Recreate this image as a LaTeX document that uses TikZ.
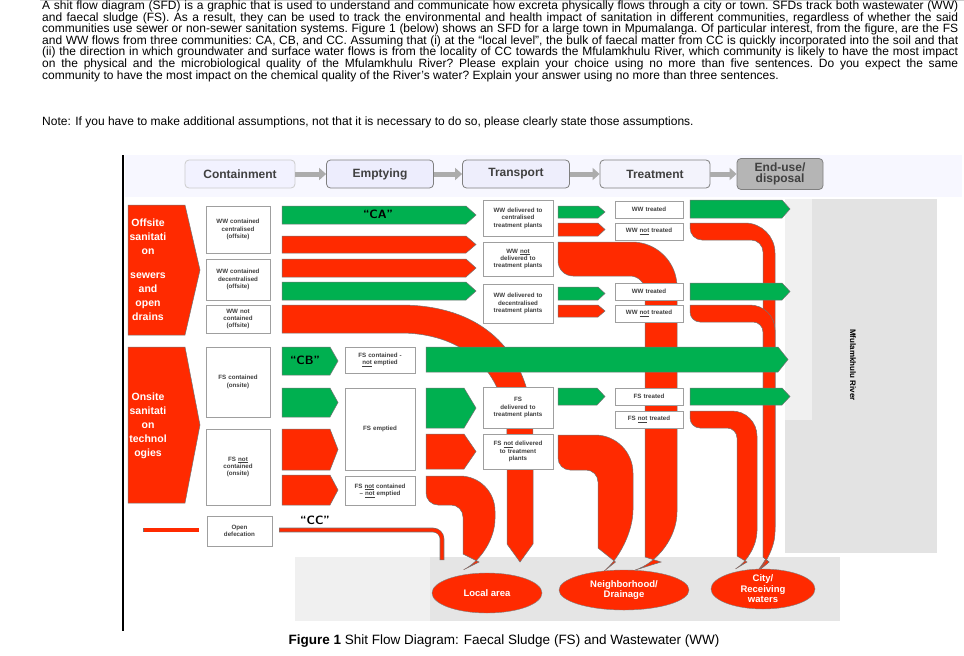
\documentclass[tikz,border=0pt]{standalone}
\usepackage{fontspec}
\setmainfont{Liberation Sans}
\usetikzlibrary{arrows.meta,shapes.geometric}
\definecolor{sfdred}{RGB}{255,42,0}
\definecolor{sfdgreen}{RGB}{0,176,80}
\definecolor{txtg}{RGB}{64,64,64}
\tikzset{
  flow/.style={draw=black!55,line width=0.5pt},
  box/.style={draw=gray!75,fill=white,line width=0.6pt,inner sep=1pt,align=center,font=\fontsize{6.2}{7.4}\selectfont\bfseries,text=txtg},
  hdr/.style={draw=#1!60!gray,rounded corners=4pt,line width=0.8pt,font=\fontsize{12}{12}\selectfont\bfseries,text=black!75,align=center},
  harr/.style={line width=5pt,gray!65,-{Triangle[length=7pt,width=12pt]}},
  lbl/.style={font=\fontsize{10.5}{14}\selectfont\bfseries,text=white,align=center},
  ell/.style={ellipse,fill=sfdred,draw=black!50,font=\fontsize{9.5}{10.5}\selectfont\bfseries,text=white,align=center,inner sep=0pt},
  quote/.style={font=\fontsize{12}{12}\selectfont\bfseries\sffamily,text=black}
}
% arrow: color x1 y1 x2 y2 depth
\newcommand\fa[6]{\fill[#1,flow] (#2,#3) -- ({#4-#6},#3) -- (#4,{(#3+#5)/2}) -- ({#4-#6},#5) -- (#2,#5) -- cycle;}
% bend: x0 y1 y2 xa xb ytip Rout Rin h
\newcommand\bend[9]{\fill[sfdred,flow] (#1,#2) [rounded corners=#7pt] -| (#5,{#6-#9}) [sharp corners] -- ({(#4+#5)/2},#6) -- (#4,{#6-#9}) [rounded corners=#8pt] |- (#1,#3) [sharp corners] -- cycle;}
\newcommand\bx[6]{\node[box,minimum width={(#4-#2)*1pt},minimum height={(#5-#3)*1pt},text width={(#4-#2-4)*1pt}] (#1) at ({(#2+#4)/2},{(#3+#5)/2}) {#6};}
\begin{document}
\begin{tikzpicture}[x=1pt,y=-1pt]
\useasboundingbox (0,0) rectangle (964,656);
\fill[white] (0,0) rectangle (964,656);
\draw[gray!40] (40,0.5) -- (964,0.5);
% paragraph
\node[anchor=north west,inner sep=0pt,text width=916pt,align=justify] (para) at (42,0.5) {\fontsize{12}{11.65}\selectfont\frenchspacing
A shit flow diagram (SFD) is a graphic that is used to understand and communicate how excreta physically flows through a city or town. SFDs track both wastewater (WW)\linebreak
and faecal sludge (FS). As a result, they can be used to track the environmental and health impact of sanitation in different communities, regardless of whether the said\linebreak
communities use sewer or non-sewer sanitation systems. Figure 1 (below) shows an SFD for a large town in Mpumalanga. Of particular interest, from the figure, are the FS\linebreak
and WW flows from three communities: CA, CB, and CC. Assuming that (i) at the “local level”, the bulk of faecal matter from CC is quickly incorporated into the soil and that\linebreak
(ii) the direction in which groundwater and surface water flows is from the locality of CC towards the Mfulamkhulu River, which community is likely to have the most impact\linebreak
on the physical and the microbiological quality of the Mfulamkhulu River? Please explain your choice using no more than five sentences. Do you expect the same\linebreak
community to have the most impact on the chemical quality of the River’s water? Explain your answer using no more than three sentences.\par};
\node[anchor=north west,inner sep=0pt,font=\fontsize{12}{12}\selectfont] (note) at (42,117) {Note: If you have to make additional assumptions, not that it is necessary to do so, please clearly state those assumptions.};
% frame line
\draw[black,line width=2.5pt] (123,155) -- (123,631);
% backgrounds
\fill[blue!3] (125,155) rectangle (962,197);
\fill[gray!22] (785,199) rectangle (937,553);
\fill[gray!12] (785,199) rectangle (812,420);
\fill[gray!20] (295,557) rectangle (840,621);
\fill[gray!12] (295,557) rectangle (430,621);
\node[rotate=-90,font=\fontsize{8}{9}\selectfont\bfseries] (river) at (853,365) {Mfulamkhulu River};
% header
\node[hdr=white,fill=white!95!blue,minimum width=110pt,minimum height=28pt] (h1) at (240,174) {Containment};
\node[hdr=gray,fill=gray!20!blue!8,minimum width=107pt,minimum height=28pt] (h2) at (380,174) {Emptying};
\node[hdr=gray,fill=gray!30!blue!8,minimum width=107pt,minimum height=28pt] (h3) at (516,174) {Transport};
\node[hdr=gray,fill=gray!42!blue!6,minimum width=110pt,minimum height=28pt] (h4) at (655,174) {Treatment};
\node[hdr=gray,fill=gray!58,minimum width=86pt,minimum height=31pt,font=\fontsize{12}{11}\selectfont\bfseries] (h5) at (780,174) {End-use/\\disposal};
\draw[harr] (h1) -- (h2); \draw[harr] (h2) -- (h3); \draw[harr] (h3) -- (h4); \draw[harr] (h4) -- (h5);
% left labels
\fill[sfdred,flow] (128,205) -- (185,205) -- (200,270) -- (185,335) -- (128,335) -- cycle;
\node[lbl] (off) at (148,270) {Offsite\\sanitati\\on\\[10pt]sewers\\and\\open\\drains};
\fill[sfdred,flow] (128,347) -- (185,347) -- (200,425) -- (185,503) -- (128,503) -- cycle;
\node[lbl] (on) at (148,426) {Onsite\\sanitati\\on\\technol\\ogies};
% bends (behind)
\fill[sfdred,flow] (282,305) -- (400,305) .. controls (490,305) and (533,360) .. (533,435) -- (533,544) -- (520,562) -- (507,544) -- (507,435) .. controls (507,378) and (470,333) .. (400,333) -- (282,333) -- cycle;
\bend{558}{242}{276}{645}{677}{562}{45}{15}{5}
\bend{690}{223}{240}{763}{775}{562}{30}{12}{5}
\bend{690}{305}{322}{763}{775}{562}{25}{10}{5}
\bend{690}{411}{428}{737}{757}{562}{25}{10}{6}
\bend{558}{435}{470}{598}{633}{562}{38}{12}{14}
\bend{426}{476}{505}{463}{495}{562}{35}{12}{8}
% CC line
\draw[black!55,line width=4.6pt,rounded corners=9pt] (279,530) -| (442,560);
\draw[sfdred,line width=3.4pt,rounded corners=9pt] (279.5,530) -| (442,559.5);
\draw[black!55,line width=4.6pt] (143,530) -- (199,530);
\draw[sfdred,line width=3.4pt] (143.5,530) -- (198.5,530);
% column 2 offsite
\fa{sfdgreen}{282}{206}{476}{224}{10}
\fa{sfdred}{282}{236}{476}{253}{10}
\fa{sfdred}{282}{259}{476}{277}{10}
\fa{sfdgreen}{282}{282}{476}{300}{10}
% transport arrows
\fa{sfdgreen}{558}{206}{605}{218}{7}
\fa{sfdred}{558}{223}{605}{236}{7}
\fa{sfdgreen}{558}{287}{605}{300}{7}
\fa{sfdred}{558}{305}{605}{317}{7}
\fa{sfdgreen}{558}{388}{605}{405}{8}
% end-use greens
\fa{sfdgreen}{690}{200}{790}{218}{8}
\fa{sfdgreen}{690}{283}{790}{300}{8}
\fa{sfdgreen}{690}{388}{790}{405}{8}
\fa{sfdgreen}{426}{347}{788}{372}{10}
% onsite arrows
\fa{sfdgreen}{282}{347}{338}{375}{8}
\fa{sfdgreen}{282}{388}{338}{417}{8}
\fa{sfdred}{282}{429}{338}{470}{8}
\fa{sfdred}{282}{475}{338}{505}{8}
\fa{sfdgreen}{426}{388}{476}{428}{12}
\fa{sfdred}{426}{434}{476}{469}{12}
% boxes
\bx{c1}{206}{206}{270}{253}{WW contained\\centralised\\(offsite)}
\bx{c2}{206}{259}{270}{300}{WW contained\\decentralised\\(offsite)}
\bx{c3}{206}{305}{270}{333}{WW not\\contained\\(offsite)}
\bx{c4}{206}{347}{270}{417}{FS contained\\(onsite)}
\bx{c5}{206}{429}{270}{505}{FS \underline{not}\\contained\\(onsite)}
\bx{c6}{207}{516}{272}{546}{Open\\defecation}
\bx{e1}{345}{347}{415}{373}{FS contained -\\\underline{not} emptied}
\bx{e2}{345}{388}{415}{470}{FS emptied}
\bx{e3}{345}{476}{415}{505}{FS \underline{not} contained\\– \underline{not} emptied}
\bx{t1}{483}{200}{553}{236}{WW delivered to\\centralised\\treatment plants}
\bx{t2}{483}{242}{553}{276}{WW \underline{not}\\delivered to\\treatment plants}
\bx{t3}{483}{284}{553}{323}{WW delivered to\\decentralised\\treatment plants}
\bx{t4}{483}{387}{553}{428}{FS\\delivered to\\treatment plants}
\bx{t5}{483}{434}{553}{469}{FS \underline{not} delivered\\to treatment\\plants}
\bx{r1}{615}{201}{683}{218}{WW treated}
\bx{r2}{615}{223}{683}{240}{WW \underline{not} treated}
\bx{r3}{615}{283}{683}{300}{WW treated}
\bx{r4}{615}{305}{683}{322}{WW \underline{not} treated}
\bx{r5}{615}{388}{683}{405}{FS treated}
\bx{r6}{615}{411}{683}{428}{FS \underline{not} treated}
% quotes
\node[quote] (ca) at (378,214) {“CA”};
\node[quote] (cb) at (305,360) {“CB”};
\node[quote] (cc) at (315,520) {“CC”};
% ellipses
\node[ell,minimum width=110pt,minimum height=40pt] (local) at (487,593) {Local area};
\node[ell,minimum width=130pt,minimum height=40pt] (nb) at (624,590) {Neighborhood/\\Drainage};
\node[ell,minimum width=104pt,minimum height=40pt] (city) at (763,589) {City/\\Receiving\\waters};
% caption
\node[font=\fontsize{13.5}{14}\selectfont] (cap) at (504,641) {\textbf{Figure 1} Shit Flow Diagram: Faecal Sludge (FS) and Wastewater (WW)};
\end{tikzpicture}
\end{document}
